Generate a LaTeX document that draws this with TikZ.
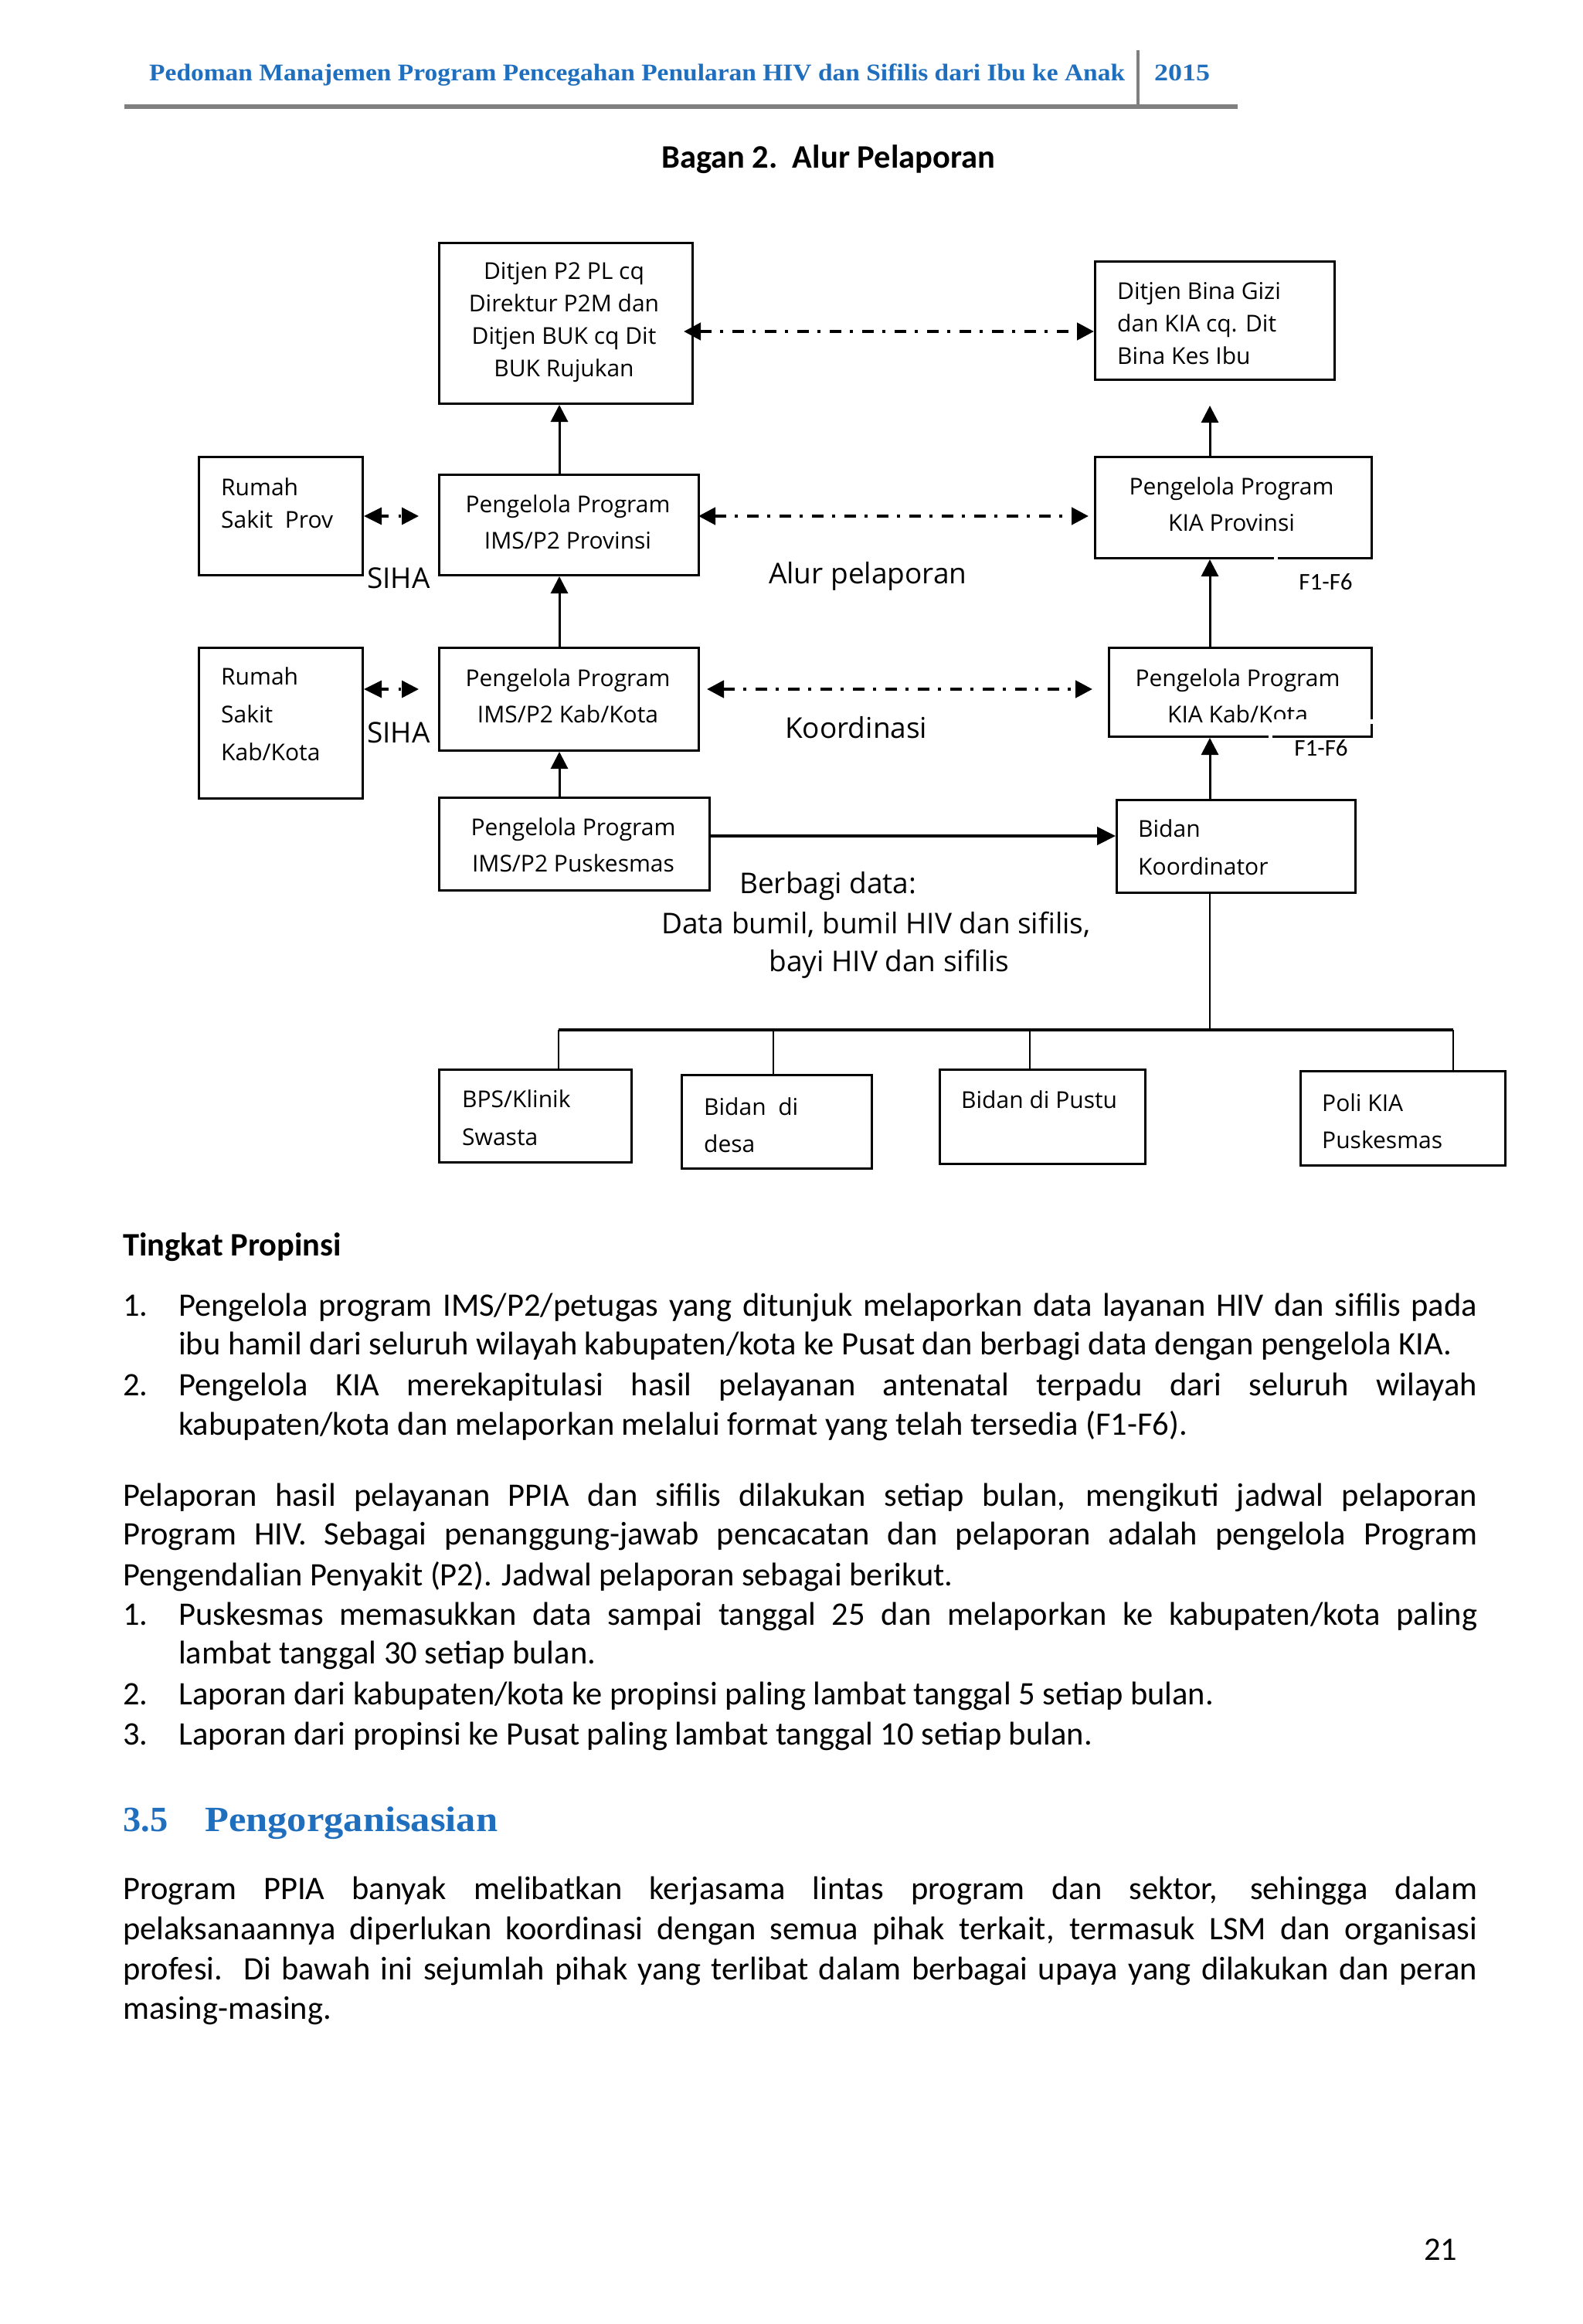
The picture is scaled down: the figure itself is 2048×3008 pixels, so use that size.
\documentclass[tikz,border=0pt]{standalone}
\usepackage{fontspec}
\usepackage{graphicx}
\setmainfont{Carlito}
\newfontfamily\osans{Open Sans}
\newfontfamily\hserif{Liberation Serif}
\usetikzlibrary{arrows.meta}
\definecolor{hblue}{HTML}{1F6FBE}
\definecolor{rulegray}{HTML}{7F7F7F}
\tikzset{
  box/.style={draw, line width=3pt, inner sep=0pt, anchor=north west},
  btxt/.style={font=\osans\fontsize{30}{47}\selectfont, inner sep=0pt},
  btxtc/.style={font=\osans\fontsize{30}{42}\selectfont, inner sep=0pt},
  lbl/.style={font=\osans\fontsize{37}{44}\selectfont, inner sep=0pt},
  ftxt/.style={font=\fontsize{31}{36}\selectfont, inner sep=0pt},
  body/.style={font=\fontsize{42.5}{52}\selectfont, inner sep=0pt, anchor=base west},
  arr/.style={-{Triangle[length=22pt,width=22pt]}, line width=3pt},
  thickarr/.style={-{Triangle[length=24pt,width=23pt]}, line width=4pt},
  dd/.style={{Triangle[length=22pt,width=22pt]}-{Triangle[length=22pt,width=22pt]}, line width=4.5pt, dash pattern=on 15pt off 11pt on 4pt off 12pt},
  sdd/.style={{Triangle[length=23pt,width=22pt]}-{Triangle[length=22pt,width=22pt]}, line width=3.5pt, dash pattern=on 10pt off 13pt on 3pt off 20pt},
  bus/.style={line width=3.5pt},
  drop/.style={line width=2.5pt}
}
\newcommand\justline[2]{\makebox[#1][s]{#2}}
\begin{document}
\begin{tikzpicture}[x=1pt,y=-1pt]
\useasboundingbox (0,0) rectangle (2048,3008);
\fill[white] (0,0) rectangle (2048,3008);

% ---------- header ----------
\node[anchor=base west, inner sep=0pt, text=hblue] (hdr) at (193,105)
  {\resizebox{1263pt}{\height}{\hserif\bfseries\fontsize{31}{31}\selectfont Pedoman Manajemen Program Pencegahan Penularan HIV dan Sifilis dari Ibu ke Anak}};
\node[anchor=base west, inner sep=0pt, text=hblue] (year) at (1494,105)
  {\resizebox{72pt}{\height}{\hserif\bfseries\fontsize{31}{31}\selectfont 2015}};
\draw[rulegray, line width=3.5pt] (1473,65) -- (1473,137);
\draw[rulegray, line width=6pt] (161,138) -- (1602,138);

\node[anchor=base west, inner sep=0pt] (title) at (856,217)
  {\bfseries\fontsize{42.5}{42.5}\selectfont Bagan 2.\ \ Alur Pelaporan};

% ---------- boxes ----------
\node[box, minimum width=328pt, minimum height=208pt] (ditjen) at (567,313) {};
\node[box, minimum width=310pt, minimum height=153pt] (binagizi) at (1416,337) {};
\node[box, minimum width=212pt, minimum height=153pt] (rsprov) at (256,590) {};
\node[box, minimum width=336pt, minimum height=130pt] (imsprov) at (567,613) {};
\node[box, minimum width=358pt, minimum height=131pt] (kiaprov) at (1416,590) {};
\node[box, minimum width=212pt, minimum height=195pt] (rskab) at (256,837) {};
\node[box, minimum width=336pt, minimum height=133pt] (imskab) at (567,837) {};
\node[box, minimum width=340pt, minimum height=115pt] (kiakab) at (1434,837) {};
\node[box, minimum width=350pt, minimum height=120pt] (imspusk) at (567,1031) {};
\node[box, minimum width=309pt, minimum height=120pt] (bidank) at (1444,1034) {};
\node[box, minimum width=249pt, minimum height=120pt] (bps) at (567,1383) {};
\node[box, minimum width=246pt, minimum height=121pt] (bidandesa) at (881,1390) {};
\node[box, minimum width=266pt, minimum height=122pt] (pustu) at (1215,1383) {};
\node[box, minimum width=265pt, minimum height=122pt] (polikia) at (1682,1385) {};

% ---------- box texts ----------
\node[btxtc, align=center] (tditjen) at (730,417) {Ditjen P2 PL cq\\Direktur P2M dan\\Ditjen BUK cq Dit\\BUK Rujukan};
\node[btxtc, align=left, anchor=west] (tbinagizi) at (1446,419) {Ditjen Bina Gizi\\dan KIA cq. Dit\\Bina Kes Ibu};
\node[btxtc, align=left, anchor=west] (trsprov) at (286,651) {Rumah\\Sakit\ \ Prov};
\node[btxt, align=center] (timsprov) at (735,676) {Pengelola Program\\IMS/P2 Provinsi};
\node[btxt, align=center] (tkiaprov) at (1594,653) {Pengelola Program\\KIA Provinsi};
\node[btxt, align=left, anchor=west, font=\osans\fontsize{30}{49}\selectfont] (trskab) at (286,924) {Rumah\\Sakit\\Kab/Kota};
\node[btxt, align=center] (timskab) at (735,901) {Pengelola Program\\IMS/P2 Kab/Kota};
\node[btxt, align=center] (tkiakab) at (1602,901) {Pengelola Program\\KIA Kab/Kota};
\node[btxt, align=center] (timspusk) at (742,1094) {Pengelola Program\\IMS/P2 Puskesmas};
\node[btxt, align=left, anchor=west, font=\osans\fontsize{30}{49}\selectfont] (tbidank) at (1473,1097) {Bidan\\Koordinator};
\node[btxt, align=left, anchor=west, font=\osans\fontsize{30}{49}\selectfont] (tbps) at (598,1447) {BPS/Klinik\\Swasta};
\node[btxt, align=left, anchor=west, font=\osans\fontsize{30}{48}\selectfont] (tbidandesa) at (911,1456) {Bidan\ \ di\\desa};
\node[btxt, anchor=west] (tpustu) at (1244,1423) {Bidan di Pustu};
\node[btxt, align=left, anchor=west, font=\osans\fontsize{30}{48}\selectfont] (tpolikia) at (1711,1451) {Poli KIA\\Puskesmas};

% clipped corners (F1-F6 text boxes overlapping)
\fill[white] (1646,931) rectangle (1768,949);
\fill[white] (1642,945) rectangle (1647,958);
\fill[white] (1767,931) rectangle (1780,937);
\fill[white] (1649,714) rectangle (1654,728);

% ---------- labels ----------
\node[lbl, anchor=west] (siha1) at (475,748) {SIHA};
\node[lbl, anchor=west] (siha2) at (475,948) {SIHA};
\node[lbl, anchor=west] (alur) at (995,746) {Alur pelaporan};
\node[lbl, anchor=west] (koord) at (1016,942) {Koordinasi};
\node[lbl, anchor=west] (berbagi) at (957,1147) {Berbagi data:};
\node[lbl] (databumil) at (1134,1197) {Data bumil, bumil HIV dan sifilis,};
\node[lbl] (bayi) at (1151,1248) {bayi HIV dan sifilis};
\node[ftxt] (f1) at (1716,753) {F1-F6};
\node[ftxt] (f2) at (1710,968) {F1-F6};

% ---------- connectors ----------
\coordinate (cL) at (724,0);
\coordinate (cR) at (1566,0);
\coordinate (yA) at (0,429);
\coordinate (yB) at (0,668);
\coordinate (yC) at (0,892);
\coordinate (yP) at (0,1082);

\draw[arr] (imsprov.north -| cL) -- (ditjen.south -| cL);
\draw[arr, shorten >=32pt] (kiaprov.north -| cR) -- (binagizi.south -| cR);
\draw[arr] (imskab.north -| cL) -- (imsprov.south -| cL);
\draw[arr] (kiakab.north -| cR) -- (kiaprov.south -| cR);
\draw[arr] (imspusk.north -| cL) -- (imskab.south -| cL);
\draw[arr] (bidank.north -| cR) -- (kiakab.south -| cR);
\draw[thickarr] (imspusk.east |- yP) -- (bidank.west |- yP);

\draw[dd, shorten <=-13pt] (ditjen.east |- yA) -- (binagizi.west |- yA);
\draw[dd, shorten <=-2pt, shorten >=7pt] (imsprov.east |- yB) -- (kiaprov.west |- yB);
\draw[dd, shorten <=9pt, shorten >=20pt] (imskab.east |- yC) -- (kiakab.west |- yC);

\draw[sdd, shorten >=25pt] (rsprov.east |- yB) -- (imsprov.west |- yB);
\draw[sdd, shorten >=25pt] (rskab.east |- yC) -- (imskab.west |- yC);

\coordinate (busL) at (723,1333);
\coordinate (busR) at (1881,1333);
\coordinate (d2) at (1001,1333);
\coordinate (d3) at (1333,1333);
\draw[drop] (bidank.south -| cR) -- (cR |- busL);
\draw[bus] (busL) -- (busR);
\draw[drop] (busL) -- (bps.north -| busL);
\draw[drop] (d2) -- (bidandesa.north -| d2);
\draw[drop] (d3) -- (pustu.north -| d3);
\draw[drop] (busR) -- (polikia.north -| busR);

% ---------- body text ----------
\node[body] (tp) at (159,1625) {\bfseries Tingkat Propinsi};
\node[body] (n1) at (159,1703) {1.};
\node[body] (l1) at (231,1703) {\justline{1681pt}{Pengelola program IMS/P2/petugas yang ditunjuk melaporkan data layanan HIV dan sifilis pada}};
\node[body] (l2) at (231,1753) {ibu hamil dari seluruh wilayah kabupaten/kota ke Pusat dan berbagi data dengan pengelola KIA.};
\node[body] (n2) at (159,1806) {2.};
\node[body] (l3) at (231,1806) {\justline{1681pt}{Pengelola KIA merekapitulasi hasil pelayanan antenatal terpadu dari seluruh wilayah}};
\node[body] (l4) at (231,1857) {kabupaten/kota dan melaporkan melalui format yang telah tersedia (F1-F6).};

\node[body] (p1) at (159,1949) {\justline{1753pt}{Pelaporan hasil pelayanan PPIA dan sifilis dilakukan setiap bulan, mengikuti jadwal pelaporan}};
\node[body] (p2) at (159,1999) {\justline{1753pt}{Program HIV. Sebagai penanggung-jawab pencacatan dan pelaporan adalah pengelola Program}};
\node[body] (p3) at (159,2052) {Pengendalian Penyakit (P2). Jadwal pelaporan sebagai berikut.};
\node[body] (m1) at (159,2103) {1.};
\node[body] (q1) at (231,2103) {\justline{1681pt}{Puskesmas memasukkan data sampai tanggal 25 dan melaporkan ke kabupaten/kota paling}};
\node[body] (q2) at (231,2153) {lambat tanggal 30 setiap bulan.};
\node[body] (m2) at (159,2206) {2.};
\node[body] (q3) at (231,2206) {Laporan dari kabupaten/kota ke propinsi paling lambat tanggal 5 setiap bulan.};
\node[body] (m3) at (159,2258) {3.};
\node[body] (q4) at (231,2258) {Laporan dari propinsi ke Pusat paling lambat tanggal 10 setiap bulan.};

\node[anchor=base west, inner sep=0pt, text=hblue] (h35) at (159,2370)
  {\resizebox{58pt}{\height}{\hserif\bfseries\fontsize{46}{46}\selectfont 3.5}};
\node[anchor=base west, inner sep=0pt, text=hblue] (h35t) at (265,2370)
  {\resizebox{379pt}{\height}{\hserif\bfseries\fontsize{46}{46}\selectfont Pengorganisasian}};

\node[body] (r1) at (159,2458) {\justline{1753pt}{Program PPIA banyak melibatkan kerjasama lintas program dan sektor, sehingga dalam}};
\node[body] (r2) at (159,2510) {\justline{1753pt}{pelaksanaannya diperlukan koordinasi dengan semua pihak terkait, termasuk LSM dan organisasi}};
\node[body] (r3) at (159,2562) {\justline{1753pt}{profesi.\ \ Di bawah ini sejumlah pihak yang terlibat dalam berbagai upaya yang dilakukan dan peran}};
\node[body] (r4) at (159,2613) {masing-masing.};

\node[body] (pg) at (1843,2925) {21};
\end{tikzpicture}
\end{document}
